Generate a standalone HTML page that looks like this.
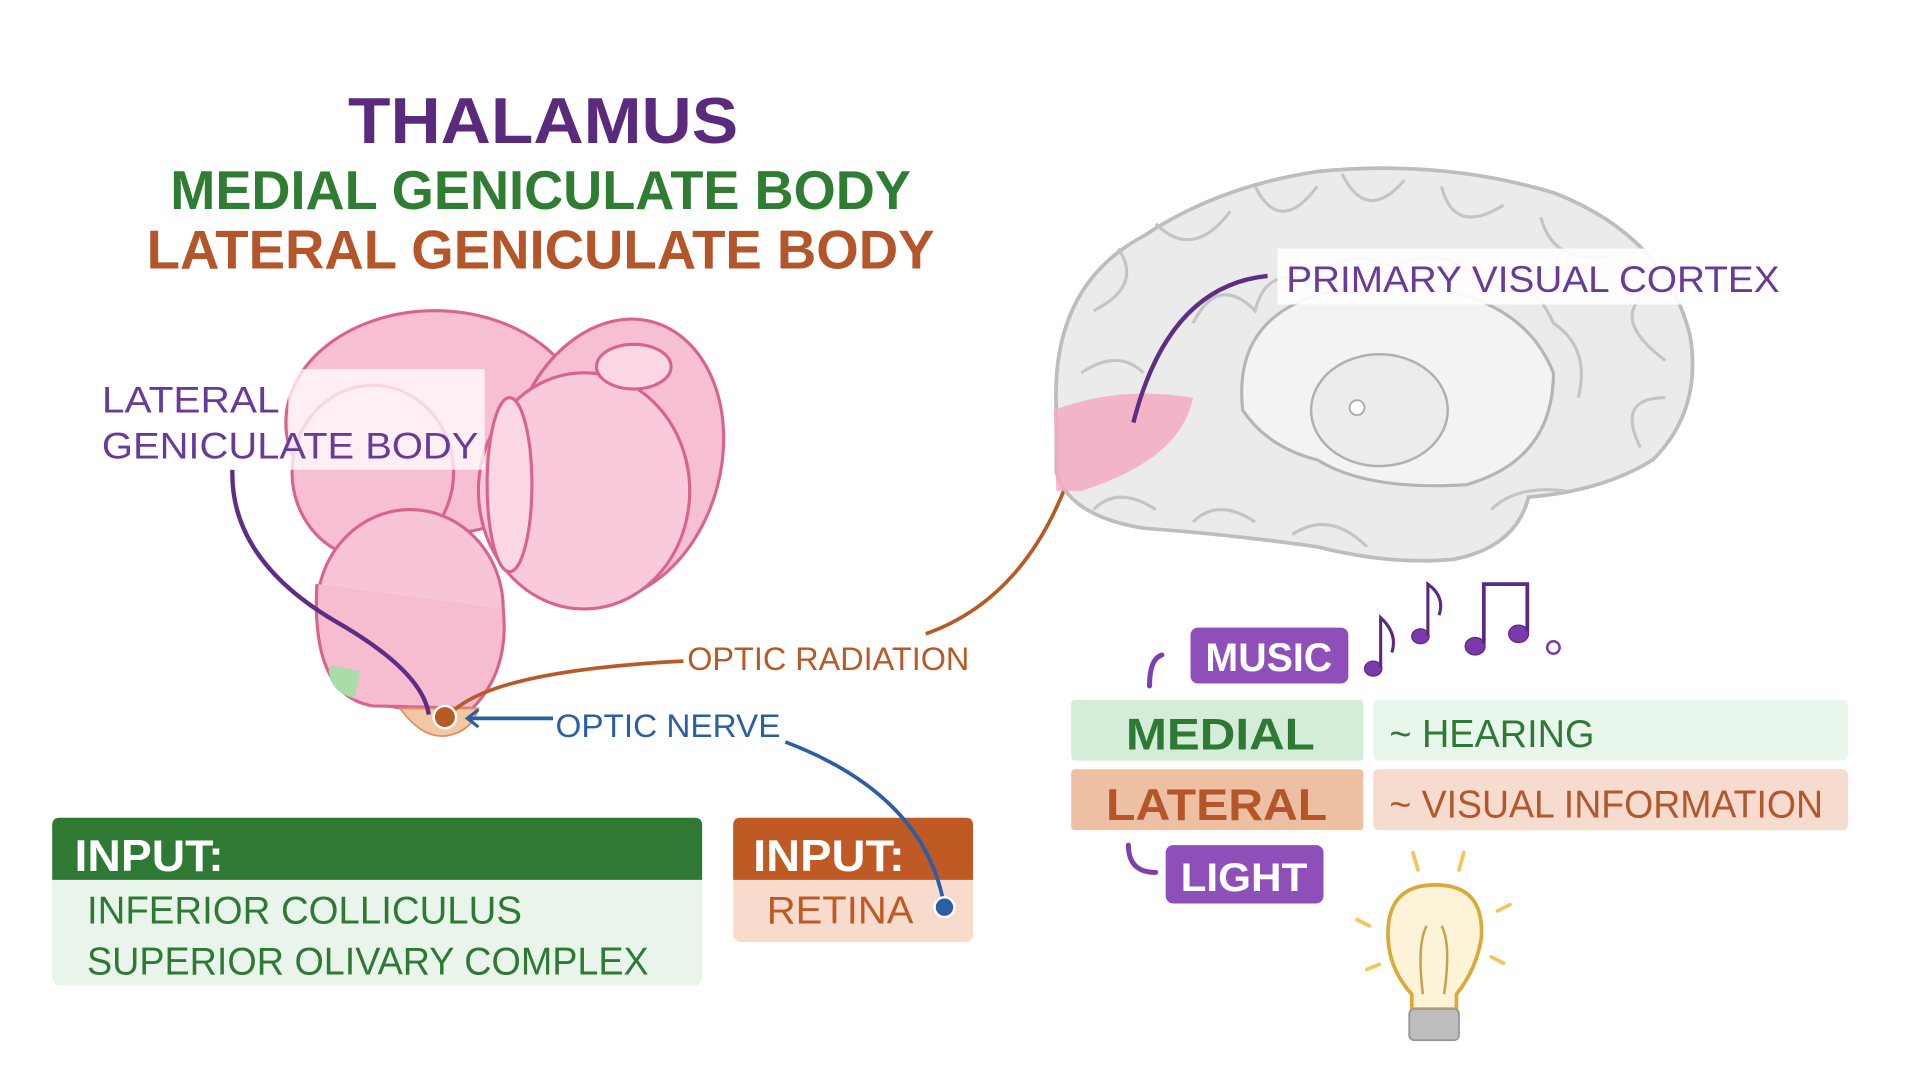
<!DOCTYPE html>
<html><head><meta charset="utf-8"><style>html,body{margin:0;padding:0;background:#fff}svg{display:block}</style></head>
<body>
<svg width="1920" height="1080" viewBox="0 0 1545 869" xmlns="http://www.w3.org/2000/svg" font-family="Liberation Sans, sans-serif">
<rect width="1545" height="869" fill="#fff"/>
<!-- titles -->
<text x="280" y="115" font-size="52" font-weight="bold" fill="#5a2a7c" textLength="314" lengthAdjust="spacingAndGlyphs">THALAMUS</text>
<text x="137" y="168" font-size="44" font-weight="bold" fill="#2e7d32" textLength="596" lengthAdjust="spacingAndGlyphs">MEDIAL GENICULATE BODY</text>
<text x="118" y="216" font-size="44" font-weight="bold" fill="#b4562a" textLength="634" lengthAdjust="spacingAndGlyphs">LATERAL GENICULATE BODY</text>
<!-- thalamus -->
<g stroke="#d9628f" stroke-width="2.5" fill="#f7bfd2">
<ellipse cx="350" cy="340" rx="120" ry="90"/>
<ellipse cx="300" cy="380" rx="65" ry="70"/>
<ellipse cx="495" cy="370" rx="85" ry="115" transform="rotate(15 495 370)"/>
<ellipse cx="470" cy="395" rx="85" ry="95" fill="#f9cadb"/>
<ellipse cx="330" cy="490" rx="75" ry="80" fill="#f8c5d7"/>
<path d="M255 470 Q250 560 300 568 L380 570 Q410 540 405 490" fill="#f6bcd0"/>
<ellipse cx="410" cy="390" rx="18" ry="70" fill="#fbd6e3"/>
<ellipse cx="510" cy="295" rx="30" ry="18" fill="#fbd6e3"/>
</g>
<path d="M265 535 Q262 555 285 562 L290 540Z" fill="#a8dca8"/>
<path d="M322 570 Q340 595 360 592 Q380 588 385 570Z" fill="#f4c7a4" stroke="#e09060" stroke-width="1.5"/>
<!-- LGB label -->
<rect x="232" y="297" width="158" height="81" fill="#fff" opacity="0.75"/>
<text x="82" y="332" font-size="30" fill="#6a3a9a" textLength="143" lengthAdjust="spacingAndGlyphs">LATERAL</text>
<text x="82" y="369" font-size="30" fill="#6a3a9a" textLength="303" lengthAdjust="spacingAndGlyphs">GENICULATE BODY</text>
<path d="M187 378 Q185 450 270 500 Q340 540 345 575" fill="none" stroke="#5e2d86" stroke-width="3.5"/>
<!-- optic radiation -->
<path d="M360 577 Q390 540 550 532" fill="none" stroke="#b85a26" stroke-width="3"/>
<path d="M745 510 Q830 480 865 370" fill="none" stroke="#b85a26" stroke-width="3"/>
<path d="M857 378 L865 368 L871 380" fill="none" stroke="#b85a26" stroke-width="2.5"/>
<text x="553" y="539" font-size="26" fill="#b85a26" textLength="227" lengthAdjust="spacingAndGlyphs">OPTIC RADIATION</text>
<circle cx="358" cy="577" r="9" fill="#b85a26" stroke="#fff" stroke-width="2"/>
<!-- input boxes -->
<rect x="42" y="658" width="523" height="135" rx="6" fill="#e9f5ea"/>
<path d="M48 658 H559 Q565 658 565 664 V708 H42 V664 Q42 658 48 658Z" fill="#2e7a35"/>
<text x="60" y="701" font-size="36" font-weight="bold" fill="#fff" textLength="120" lengthAdjust="spacingAndGlyphs">INPUT:</text>
<text x="70" y="743" font-size="31" fill="#2e7a35" textLength="350" lengthAdjust="spacingAndGlyphs">INFERIOR COLLICULUS</text>
<text x="70" y="784" font-size="31" fill="#2e7a35" textLength="452" lengthAdjust="spacingAndGlyphs">SUPERIOR OLIVARY COMPLEX</text>
<rect x="590" y="658" width="193" height="100" rx="6" fill="#f7dccd"/>
<path d="M596 658 H777 Q783 658 783 664 V708 H590 V664 Q590 658 596 658Z" fill="#c05a24"/>
<text x="606" y="701" font-size="36" font-weight="bold" fill="#fff" textLength="122" lengthAdjust="spacingAndGlyphs">INPUT:</text>
<text x="617" y="743" font-size="31" fill="#c05a24" textLength="118" lengthAdjust="spacingAndGlyphs">RETINA</text>
<!-- optic nerve (on top of boxes) -->
<path d="M378 578 L445 578" stroke="#2a5ea6" stroke-width="3"/>
<path d="M385 571 L376 578 L385 585" fill="none" stroke="#2a5ea6" stroke-width="2.5"/>
<text x="447" y="593" font-size="26" fill="#2a5ea6" textLength="181" lengthAdjust="spacingAndGlyphs">OPTIC NERVE</text>
<path d="M632 597 Q745 640 760 730" fill="none" stroke="#2a5ea6" stroke-width="3"/>
<circle cx="760" cy="730" r="8" fill="#2a5ea6" stroke="#fff" stroke-width="2"/>
<!-- brain -->
<path d="M850 330 Q845 230 920 190 Q980 150 1060 138 Q1160 128 1250 155 Q1340 190 1360 270 Q1370 330 1330 370 Q1290 395 1230 400 Q1220 440 1170 450 Q1120 455 1060 440 Q990 430 920 425 Q860 415 850 380Z" fill="#ebebeb" stroke="#bdbdbd" stroke-width="3"/>
<g fill="none" stroke="#c4c4c4" stroke-width="2.5">
<path d="M880 250 Q920 230 900 200 M930 180 Q960 210 990 170 M1010 150 Q1030 190 1060 150 M1080 140 Q1100 180 1130 145 M1160 150 Q1170 190 1210 165 M1240 175 Q1250 215 1300 205 M1320 240 Q1300 260 1340 290 M1340 320 Q1300 320 1320 360"/>
<path d="M870 300 Q900 280 920 300 M880 410 Q900 390 930 410 M960 420 Q980 400 1010 420 M1040 430 Q1070 410 1100 440 M1200 410 Q1220 390 1260 395"/>
<path d="M960 260 Q980 220 1010 250 Q1020 210 1060 230 Q1080 195 1120 215 Q1160 195 1190 225 Q1230 215 1250 260 Q1280 280 1270 320"/>
</g>
<path d="M1000 330 Q990 240 1100 230 Q1220 225 1250 300 Q1250 370 1180 390 Q1100 395 1060 370 Q1020 360 1000 330Z" fill="#f3f3f3" stroke="#b5b5b5" stroke-width="2.5"/>
<ellipse cx="1110" cy="330" rx="55" ry="45" fill="#ececec" stroke="#b0b0b0" stroke-width="2"/>
<circle cx="1092" cy="328" r="6" fill="#fff" stroke="#aaa" stroke-width="1.5"/>
<path d="M848 330 Q900 310 960 320 Q950 370 870 395 L850 395Z" fill="#f6aac2" opacity="0.85"/>
<rect x="1028" y="200" width="412" height="45" fill="#fff" opacity="0.9"/>
<text x="1035" y="235" font-size="30" fill="#6a3a9a" textLength="397" lengthAdjust="spacingAndGlyphs">PRIMARY VISUAL CORTEX</text>
<path d="M1020 222 Q940 230 912 340" fill="none" stroke="#5e2d86" stroke-width="3.5"/>
<!-- music -->
<path d="M935 527 Q925 530 925 552" fill="none" stroke="#7d3fb0" stroke-width="4" stroke-linecap="round"/>
<rect x="958" y="505" width="127" height="45" rx="6" fill="#8e4fb8"/>
<text x="970" y="540" font-size="32" font-weight="bold" fill="#fff" textLength="102" lengthAdjust="spacingAndGlyphs">MUSIC</text>
<g fill="#7a3aad" stroke="#5a2a80" stroke-width="1">
<ellipse cx="1105" cy="538" rx="7" ry="6"/><path d="M1111 537 V497 Q1125 510 1120 525" fill="none" stroke-width="2.5"/>
<ellipse cx="1143" cy="512" rx="7" ry="6"/><path d="M1149 511 V470 Q1163 480 1158 495" fill="none" stroke-width="2.5"/>
<ellipse cx="1187" cy="520" rx="8" ry="7"/><ellipse cx="1222" cy="510" rx="8" ry="7"/>
<path d="M1194 518 V470 H1229 V508" fill="none" stroke-width="3"/>
</g>
<circle cx="1250" cy="521" r="5" fill="none" stroke="#7a3aad" stroke-width="2"/>
<!-- table -->
<rect x="862" y="563" width="235" height="49" rx="3" fill="#d3edd8"/>
<rect x="1105" y="563" width="382" height="49" rx="4" fill="#e9f6ec"/>
<text x="906" y="603" font-size="36" font-weight="bold" fill="#2e7a35" textLength="152" lengthAdjust="spacingAndGlyphs">MEDIAL</text>
<text x="1118" y="601" font-size="31" fill="#2e7a35" textLength="165" lengthAdjust="spacingAndGlyphs">~ HEARING</text>
<rect x="862" y="619" width="235" height="49" rx="3" fill="#eec0a3"/>
<rect x="1105" y="619" width="382" height="49" rx="4" fill="#f6dccf"/>
<text x="890" y="660" font-size="36" font-weight="bold" fill="#b4562a" textLength="178" lengthAdjust="spacingAndGlyphs">LATERAL</text>
<text x="1118" y="658" font-size="31" fill="#b4562a" textLength="349" lengthAdjust="spacingAndGlyphs">~ VISUAL INFORMATION</text>
<!-- light -->
<path d="M908 680 Q908 702 930 702" fill="none" stroke="#7d3fb0" stroke-width="4" stroke-linecap="round"/>
<rect x="938" y="680" width="127" height="47" rx="6" fill="#8e4fb8"/>
<text x="950" y="717" font-size="32" font-weight="bold" fill="#fff" textLength="102" lengthAdjust="spacingAndGlyphs">LIGHT</text>
<g stroke="#f2c65a" stroke-width="3" stroke-linecap="round">
<path d="M1137 686 L1141 700"/><path d="M1178 686 L1174 700"/><path d="M1092 740 L1102 745"/><path d="M1215 728 L1205 733"/><path d="M1100 780 L1110 776"/><path d="M1210 775 L1200 770"/>
</g>
<path d="M1155 712 Q1195 712 1192 755 Q1188 780 1172 800 L1172 812 H1136 L1136 800 Q1118 780 1117 755 Q1115 712 1155 712Z" fill="#fdf3d8" stroke="#d9a93a" stroke-width="3"/>
<path d="M1145 800 Q1140 760 1148 745 M1162 800 Q1168 760 1160 745" fill="none" stroke="#c9a050" stroke-width="2"/>
<rect x="1134" y="812" width="40" height="25" rx="4" fill="#bdbdbd" stroke="#999" stroke-width="1.5"/>
</svg>
</body></html>
